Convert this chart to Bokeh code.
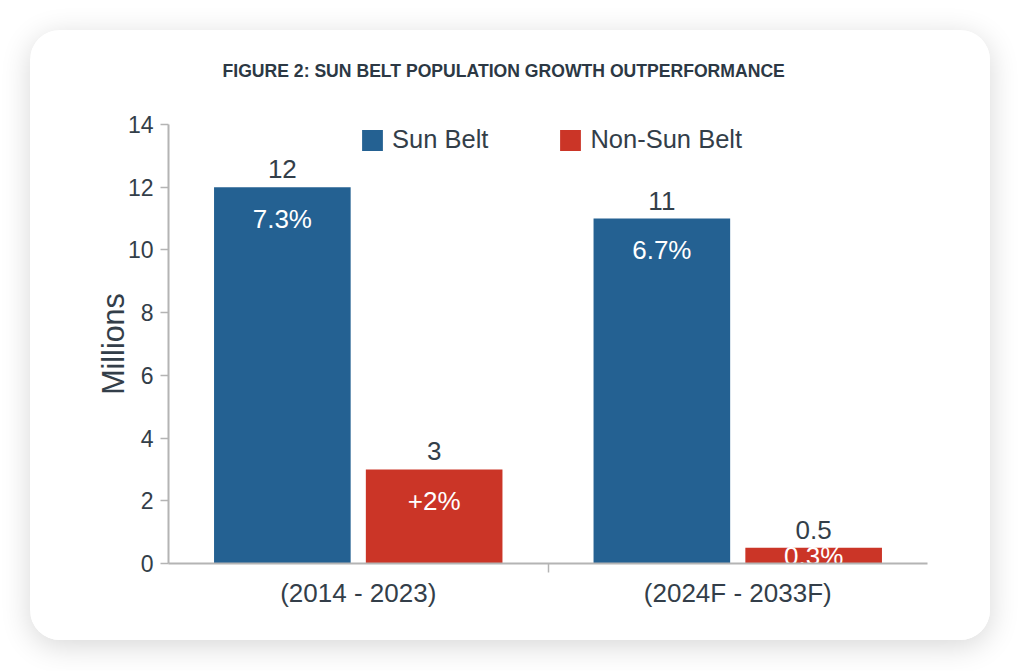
from bokeh.plotting import figure
from bokeh.models import (ColumnDataSource, Range1d, FixedTicker, Legend, LegendItem)
from bokeh.transform import dodge
from bokeh.core.properties import value
from bokeh.embed import file_html
from bokeh.resources import INLINE

# ---- data ----
title_text = "FIGURE 2: SUN BELT POPULATION GROWTH OUTPERFORMANCE"
periods = ["(2014 - 2023)", "(2024F - 2033F)"]
series_names = ["Sun Belt", "Non-Sun Belt"]
sun_belt = [12, 11]
non_sun_belt = [3, 0.5]
sun_belt_pct = ["7.3%", "6.7%"]
non_sun_belt_pct = ["+2%", "0.3%"]
y_ticks = [0, 2, 4, 6, 8, 10, 12, 14]
y_label = "Millions"

FONT = "Liberation Sans"
TEXT = "#333e49"
AXIS = "#b4b4b4"
BLUE = "#246192"
RED = "#cb3527"

xs = list(range(len(periods)))

def inside_y(vals):
    return [v - 1.0 if v > 2 else v / 2 for v in vals]

src_sun = ColumnDataSource(dict(
    x=xs, top=sun_belt, lab=[f"{v:g}" for v in sun_belt],
    pct=sun_belt_pct, py=inside_y(sun_belt)))
src_non = ColumnDataSource(dict(
    x=xs, top=non_sun_belt, lab=[f"{v:g}" for v in non_sun_belt],
    pct=non_sun_belt_pct, py=inside_y(non_sun_belt)))

p = figure(width=960, height=610, output_backend="svg", toolbar_location=None,
           x_range=Range1d(-0.5, len(periods) - 0.5), y_range=Range1d(0, 14),
           min_border_left=138, min_border_right=63, min_border_top=94,
           min_border_bottom=77)
p.margin = (30, 0, 0, 30)
p.styles = {"border-radius": "30px", "box-shadow": "0 6px 30px rgba(0,0,0,0.16)",
            "overflow": "hidden"}
p.background_fill_color = "white"
p.border_fill_color = "white"
p.outline_line_color = None
p.xgrid.visible = False
p.ygrid.visible = False

# title (an empty second line lifts the visible line higher above the frame)
p.title.text = title_text + "\n "
p.title.align = "left"
p.title.offset = 54
p.title.standoff = 48
p.title.text_font = FONT
p.title.text_font_size = "17.6px"
p.title.text_font_style = "bold"
p.title.text_color = "#2c3844"

OFF = 0.2
W = 0.36
r_sun = p.vbar(x=dodge("x", -OFF), top="top", width=W, bottom=0, source=src_sun,
               fill_color=BLUE, line_color=None)
r_non = p.vbar(x=dodge("x", OFF), top="top", width=W, bottom=0, source=src_non,
               fill_color=RED, line_color=None)

for src, off in ((src_sun, -OFF), (src_non, OFF)):
    p.text(x=dodge("x", off), y="top", text="lab", source=src,
           text_align="center", text_baseline="middle", y_offset=-18,
           text_font=value(FONT), text_font_size="26px", text_color=TEXT)
    p.text(x=dodge("x", off), y="py", text="pct", source=src,
           text_align="center", text_baseline="middle",
           text_font=value(FONT), text_font_size="26px", text_color="white")

# axes
xa = p.xaxis[0]
xa.ticker = FixedTicker(ticks=xs, minor_ticks=[x + 0.5 for x in xs[:-1]])
xa.major_label_overrides = {i: s for i, s in zip(xs, periods)}
xa.major_tick_line_color = None
xa.major_tick_out = 0
xa.major_tick_in = 0
xa.minor_tick_in = 0
xa.minor_tick_out = 9
xa.minor_tick_line_color = AXIS
xa.minor_tick_line_width = 1.5
xa.axis_line_color = AXIS
xa.axis_line_width = 2
xa.major_label_standoff = 5
xa.major_label_text_font = FONT
xa.major_label_text_font_size = "26px"
xa.major_label_text_color = TEXT

ya = p.yaxis[0]
ya.ticker = FixedTicker(ticks=y_ticks, minor_ticks=[])
ya.major_tick_in = 0
ya.major_tick_out = 8
ya.major_tick_line_color = AXIS
ya.major_tick_line_width = 1.5
ya.axis_line_color = AXIS
ya.axis_line_width = 2
ya.major_label_standoff = 7
ya.major_label_text_font = FONT
ya.major_label_text_font_size = "23px"
ya.major_label_text_color = TEXT
ya.axis_label = y_label
ya.axis_label_text_font = FONT
ya.axis_label_text_font_size = "30.5px"
ya.axis_label_text_font_style = "normal"
ya.axis_label_text_color = TEXT
ya.axis_label_standoff = -5

legend = Legend(items=[LegendItem(label=series_names[0], renderers=[r_sun]),
                       LegendItem(label=series_names[1], renderers=[r_non])],
                orientation="horizontal", location=(191, 409),
                glyph_width=26, glyph_height=26, label_standoff=7, spacing=69,
                padding=0, margin=0, border_line_alpha=0, background_fill_alpha=0,
                label_text_font=FONT, label_text_font_size="25.5px",
                label_text_color=TEXT)
p.add_layout(legend)

open("out.html", "w").write(file_html(p, INLINE))
